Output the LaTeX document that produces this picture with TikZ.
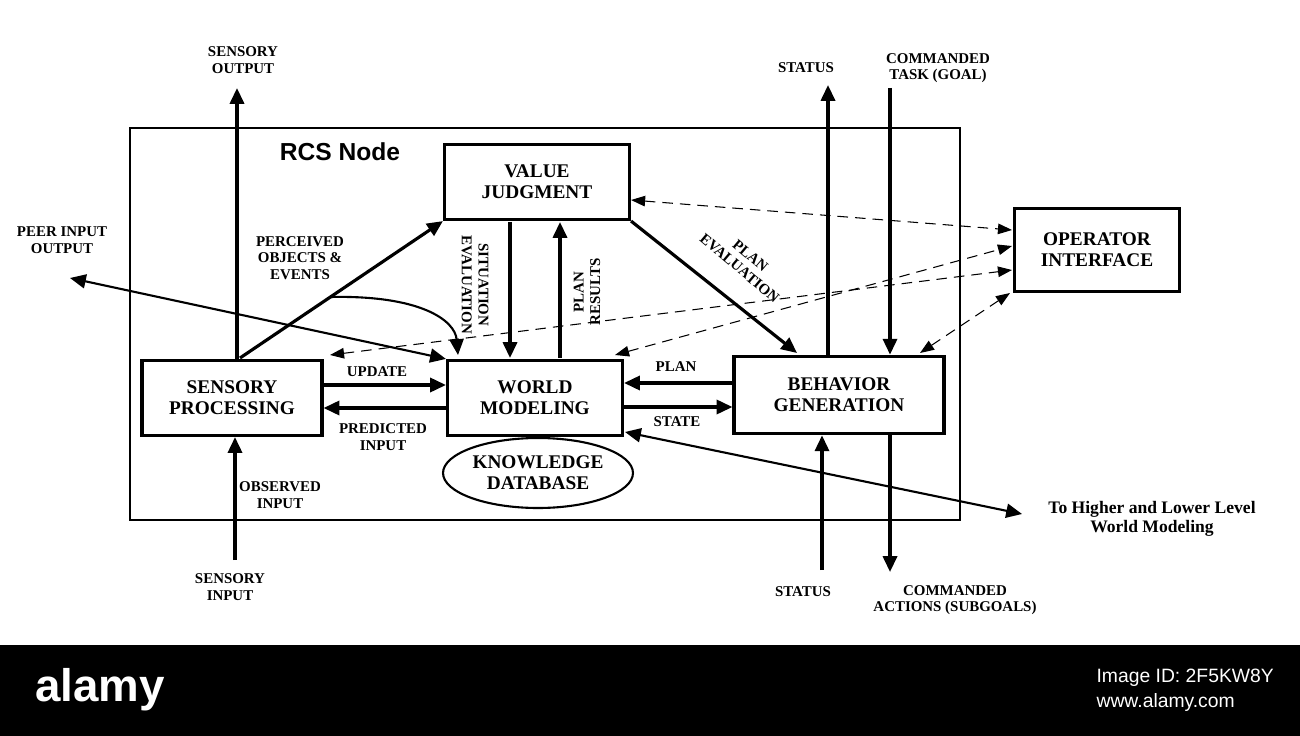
\documentclass[tikz,border=0pt]{standalone}
\usepackage{fontspec}
\setmainfont{Liberation Serif}
\newfontfamily\sansf{Liberation Sans}
\usetikzlibrary{arrows.meta,shapes.geometric}
\begin{document}
\begin{tikzpicture}[
    x=0.02cm, y=-0.02cm,
    box/.style={rectangle, draw, line width=1.8pt, font=\bfseries\fontsize{11}{12}\selectfont, align=center},
    lbl/.style={font=\bfseries\fontsize{8.5}{9.5}\selectfont, align=center, inner sep=1pt},
    sig/.style={line width=1.8pt, -{Triangle[length=9pt,width=8pt]}},
    sig2/.style={line width=1.2pt, {Triangle[length=9pt,width=8pt]}-{Triangle[length=9pt,width=8pt]}},
    dsh/.style={dashed, dash pattern=on 6pt off 4pt, line width=0.6pt, {Triangle[length=8pt,width=6pt]}-{Triangle[length=8pt,width=6pt]}},
    >=latex
]
\useasboundingbox (0,0) rectangle (1300,736);
% Rahmen
\draw[line width=0.6pt] (130,128) rectangle (960,520);
\node[font=\sansf\bfseries\fontsize{14}{16}\selectfont] (title) at (340,152) {RCS Node};

% Bloecke
\node[box, minimum width=3.7cm, minimum height=1.5cm] (vj) at (537,182) {VALUE\\JUDGMENT};
\node[box, minimum width=3.6cm, minimum height=1.5cm] (sp) at (232,398) {SENSORY\\PROCESSING};
\node[box, minimum width=3.5cm, minimum height=1.5cm] (wm) at (535,398) {WORLD\\MODELING};
\node[box, minimum width=4.2cm, minimum height=1.55cm] (bg) at (839,395) {BEHAVIOR\\GENERATION};
\node[box, minimum width=3.3cm, minimum height=1.65cm] (oi) at (1097,250) {OPERATOR\\INTERFACE};
\node[ellipse, draw, line width=1.2pt, minimum width=3.8cm, minimum height=1.4cm, inner sep=0pt, font=\bfseries\fontsize{11}{12}\selectfont, align=center] (kd) at (538,473) {KNOWLEDGE\\DATABASE};

% Hilfspunkte
\coordinate (so) at (237,88);
\coordinate (si) at (235,560);
\coordinate (peer) at (70,278);
\coordinate (hl) at (1022,514);
\coordinate (stu) at (828,85);
\coordinate (ct) at (890,88);
\coordinate (std) at (822,570);
\coordinate (ca) at (890,572);

% Sensorik
\draw[sig] (sp.north -| so) -- (so);
\draw[sig] (si) -- (sp.south -| si);
\node[lbl] (solbl) at (243,60) {SENSORY\\OUTPUT};
\node[lbl] (oblbl) at (280,495) {OBSERVED\\INPUT};
\node[lbl] (silbl) at (230,587) {SENSORY\\INPUT};

% Peer
\draw[sig2] (peer) -- (wm.north west);
\node[lbl] (peerlbl) at (62,240) {PEER INPUT\\OUTPUT};

% SP -> VJ und Bogen
\draw[sig] (240,358) -- (vj.south west);
\draw[line width=1.2pt, -{Triangle[length=9pt,width=8pt]}] (330,297) .. controls (420,295) and (455,320) .. (458,355);
\node[lbl] (polbl) at (300,258) {PERCEIVED\\OBJECTS \&\\EVENTS};

% VJ <-> WM
\draw[sig] (510,222) -- (510,358);
\draw[sig] (560,358) -- (560,222);
\node[lbl, rotate=-90] (selbl) at (475,285) {SITUATION\\EVALUATION};
\node[lbl, rotate=90] (prlbl) at (587,292) {PLAN\\RESULTS};

% VJ -> BG
\draw[sig] (vj.south east) -- (797,353);
\node[lbl, rotate=-40] (pelbl) at (745,262) {PLAN\\EVALUATION};

% gestrichelte Verbindungen
\draw[dsh] (vj.east |- 0,200) -- (1012,230);
\draw[dsh] (615,355) -- (1012,246);
\draw[dsh] (330,355) -- (1012,270);
\draw[dsh] (920,353) -- (1010,293);

% SP <-> WM
\draw[sig] (sp.east |- 0,385) -- (wm.west |- 0,385);
\draw[sig] (wm.west |- 0,408) -- (sp.east |- 0,408);
\node[lbl] (uplbl) at (377,372) {UPDATE};
\node[lbl] (pilbl) at (383,437) {PREDICTED\\INPUT};

% WM <-> BG
\draw[sig] (bg.west |- 0,383) -- (wm.east |- 0,383);
\draw[sig] (wm.east |- 0,407) -- (bg.west |- 0,407);
\node[lbl] (pllbl) at (676,367) {PLAN};
\node[lbl] (stlbl) at (677,422) {STATE};

% WM <-> hoehere Ebenen
\draw[sig2] (625,432) -- (hl);
\node[lbl, font=\bfseries\fontsize{10}{11}\selectfont] (hllbl) at (1152,519) {To Higher and Lower Level\\World Modeling};

% BG oben/unten
\draw[sig] (bg.north -| stu) -- (stu);
\draw[sig] (ct) -- (bg.north -| ct);
\draw[sig] (std) -- (bg.south -| std);
\draw[sig] (bg.south -| ca) -- (ca);
\node[lbl] (stulbl) at (806,68) {STATUS};
\node[lbl] (ctlbl) at (938,68) {COMMANDED\\TASK (GOAL)};
\node[lbl] (stdlbl) at (803,592) {STATUS};
\node[lbl] (calbl) at (955,600) {COMMANDED\\ACTIONS (SUBGOALS)};

% Leiste unten
\fill[black] (0,645) rectangle (1300,736);
\node[text=white, font=\sansf\bfseries\fontsize{26}{28}\selectfont] (brand) at (100,690) {alamy};
\node[text=white, font=\sansf\fontsize{11}{14}\selectfont, align=left, anchor=east] (imgid) at (1280,690) {Image ID: 2F5KW8Y\\www.alamy.com};
\end{tikzpicture}
\end{document}
